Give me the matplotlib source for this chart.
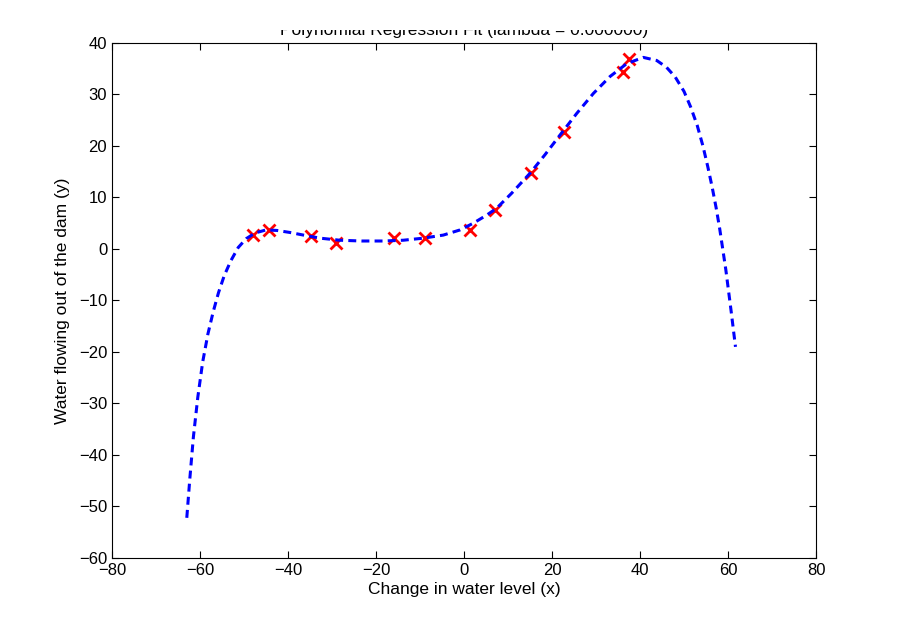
import matplotlib
matplotlib.use('Agg')
import matplotlib.pyplot as plt
from matplotlib.patches import Rectangle

plt.rcParams['font.family'] = ['Liberation Sans', 'DejaVu Sans']

# training data (red crosses)
x_train = [-15.94, -29.15, 36.19, 37.49, -48.06, -8.94, 15.31, -34.71, 1.39, -44.38, 7.01, 22.76]
y_train = [2.13, 1.17, 34.36, 36.84, 2.81, 2.12, 14.71, 2.61, 3.74, 3.73, 7.63, 22.75]

# fitted curve
curve_x = [-63.0, -62.3, -61.5, -60.5, -59.4, -58.2, -57.0, -55.8, -54.5, -53.0,
           -51.3, -49.5, -47.5, -45.0, -42.5, -39.5, -36.5, -32.7, -28.2, -23.3,
           -18.3, -13.8, -9.25, -4.7, -0.9, 2.1, 5.2, 7.4, 10.8, 15.0,
           18.4, 21.8, 25.6, 29.4, 33.2, 37.0, 40.75, 43.8, 46.0, 48.0,
           50.0, 51.5, 53.0, 54.3, 55.4, 56.4, 57.3, 58.1, 58.8, 59.5,
           60.1, 60.7, 61.2, 61.7]
curve_y = [-52.2, -44.5, -36.5, -28.8, -22.0, -16.5, -12.2, -8.5, -5.2, -2.3,
           0.3, 2.0, 3.1, 3.7, 3.6, 3.2, 2.7, 2.1, 1.7, 1.55,
           1.55, 1.7, 2.1, 2.7, 3.7, 5.0, 6.6, 7.9, 10.8, 14.7,
           18.3, 22.1, 26.3, 30.2, 33.5, 36.0, 37.2, 36.6, 35.3, 33.4,
           30.6, 27.6, 24.0, 20.0, 16.0, 12.0, 8.0, 4.0, 0.0, -4.0,
           -8.0, -12.0, -15.5, -19.0]

fig = plt.figure(figsize=(9.09, 6.22), dpi=100)
ax = fig.add_axes([0.1232, 0.1029, 0.7745, 0.828])

ax.plot(x_train, y_train, 'rx', markersize=9, markeredgewidth=2)
ax.plot(curve_x, curve_y, color='blue', linewidth=2.2, dashes=(2.6, 1.7))

ax.set_xlim(-80, 80)
ax.set_ylim(-60, 40)
ax.set_xticks(range(-80, 81, 20))
ax.set_yticks(range(-60, 41, 10))
ax.tick_params(direction='in', top=True, right=True, length=5, labelsize=12)
ax.set_xlabel('Change in water level (x)', fontsize=12.5, labelpad=3)
ax.set_ylabel('Water flowing out of the dam (y)', fontsize=12.5, labelpad=6)
ax.set_title('Polynomial Regression Fit (lambda = 0.000000)', fontsize=12.5)

# top of the title is cut off in the reference
fig.patches.append(Rectangle((0, 0.9518), 1, 0.05, transform=fig.transFigure,
                             facecolor='white', edgecolor='none', zorder=10))

fig.savefig('out.png', dpi=100)
